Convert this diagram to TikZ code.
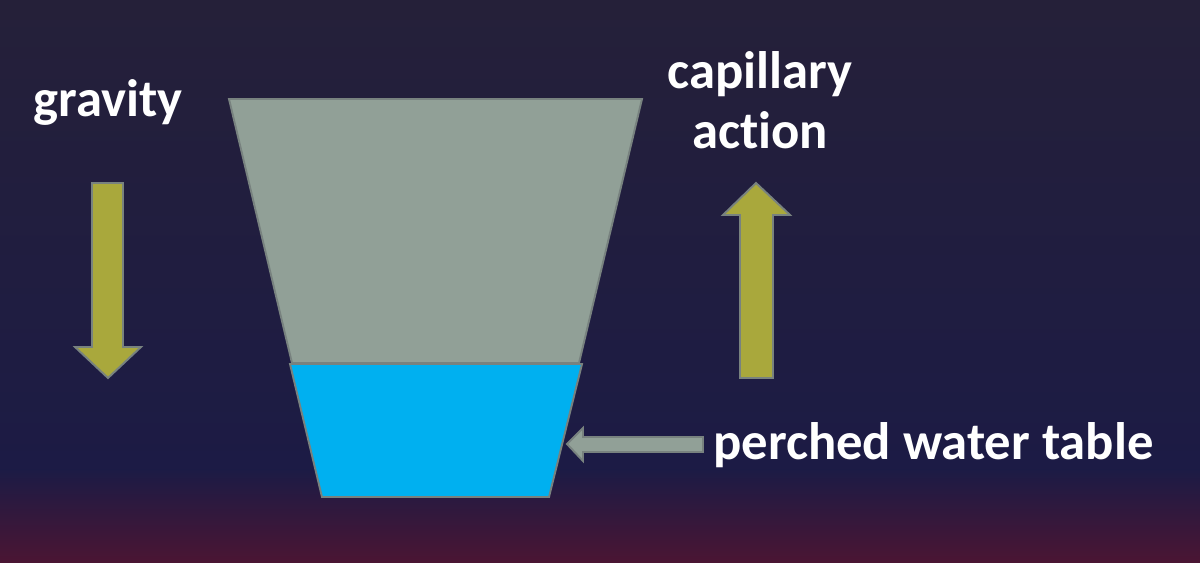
\documentclass[tikz,border=0pt]{standalone}
\usepackage{fontspec}
\setmainfont{Carlito}[Ligatures=NoCommon]
\usepackage{tikz}

\definecolor{bgtop}{HTML}{252039}
\definecolor{bgmid}{HTML}{1C1B45}
\definecolor{bgbot}{HTML}{4B1533}
\definecolor{soilgray}{HTML}{91A097}
\definecolor{edgegray}{HTML}{78827F}
\definecolor{waterblue}{HTML}{00B0F0}
\definecolor{olive}{HTML}{A9A83C}

\tikzset{
    label/.style={text=white, font=\bfseries\fontsize{30}{34}\selectfont},
    blockarrow/.style={fill=olive, draw=edgegray, line width=1.1pt},
}

\begin{document}
\begin{tikzpicture}[x=0.02cm, y=-0.02cm]
    % background
    \shade [top color=bgtop, bottom color=bgmid] (0, 0) rectangle (1200, 470);
    \shade [top color=bgmid, bottom color=bgbot] (0, 470) rectangle (1200, 563);
    \useasboundingbox (0, 0) rectangle (1200, 563);
    % soil (dry part)
    \draw [fill=soilgray, draw=edgegray, line width=1.1pt] (229, 99) -- (642, 99) -- (579, 363) -- (292, 363) -- cycle;
    % perched water
    \draw [fill=waterblue, draw=edgegray, line width=1.1pt] (290, 364) -- (582, 364) -- (549, 497) -- (322, 497) -- cycle;
    % gravity
    \node [label] (0) at (108, 102) {gravity};
    \draw [blockarrow] (92, 183) -- (123, 183) -- (123, 347) -- (141, 347) -- (108, 378) -- (75, 347) -- (92, 347) -- cycle;
    % capillary action
    \node [label, align=center] (1) at (760, 100) {capillary\\action};
    \draw [blockarrow] (740, 378) -- (773, 378) -- (773, 215) -- (790, 215) -- (756, 183) -- (723, 215) -- (740, 215) -- cycle;
    % perched water table
    \node [label, anchor=west] (2) at (707, 445) {perched water table};
    \draw [fill=soilgray, draw=edgegray, line width=1.1pt] (703, 437) -- (583, 437) -- (583, 428) -- (567, 444) -- (583, 461) -- (583, 452) -- (703, 452) -- cycle;
\end{tikzpicture}
\end{document}
